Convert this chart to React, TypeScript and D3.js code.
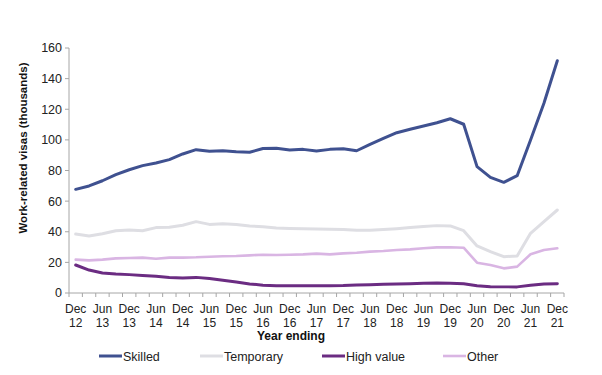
import React from "react";
import * as d3 from "d3";

const tickLabels: string[][] = [
  ["Dec", "12"], ["Jun", "13"], ["Dec", "13"], ["Jun", "14"], ["Dec", "14"], ["Jun", "15"], ["Dec", "15"],
  ["Jun", "16"], ["Dec", "16"], ["Jun", "17"], ["Dec", "17"], ["Jun", "18"], ["Dec", "18"], ["Jun", "19"],
  ["Dec", "19"], ["Jun", "20"], ["Dec", "20"], ["Jun", "21"], ["Dec", "21"],
];

const skilled = [67.7, 69.9, 73.3, 77.3, 80.5, 83.2, 84.9, 87.1, 90.8, 93.6, 92.5, 92.9, 92.3, 91.9, 94.4,
  94.5, 93.4, 93.8, 92.7, 93.8, 94.2, 92.9, 97.1, 101, 104.7, 106.9, 109.1, 111.2, 113.8, 110.2,
  82.5, 75.5, 72.3, 76.6, 99.9, 123.9, 151.7];
const temporary = [38.5, 37.2, 38.7, 40.7, 41.1, 40.7, 42.7, 42.9, 44.2, 46.6, 44.8, 45.3, 44.8, 43.8, 43.2,
  42.5, 42.2, 42, 41.8, 41.6, 41.4, 40.9, 40.9, 41.4, 42, 42.7, 43.5, 44, 43.8, 40.7,
  30.7, 27, 23.7, 24.2, 39, 46.6, 54.2];
const highValue = [18.3, 15, 13.1, 12.4, 12, 11.5, 10.9, 10.2, 9.8, 10.2, 9.4, 8.3, 7.2, 5.9, 5.1,
  4.8, 4.8, 4.8, 4.8, 4.8, 4.9, 5.2, 5.4, 5.7, 5.9, 6.1, 6.3, 6.5, 6.4, 6.1,
  4.8, 4.1, 4, 4, 5, 5.9, 6.1];
const other = [21.8, 21.3, 21.8, 22.6, 22.9, 23.1, 22.4, 23.1, 23.1, 23.3, 23.7, 24, 24.2, 24.6, 25,
  24.8, 25, 25.2, 25.7, 25.2, 25.9, 26.3, 27, 27.4, 28.1, 28.5, 29.2, 29.8, 29.9, 29.6,
  19.8, 18.3, 16.1, 17.2, 25.3, 28.1, 29.2];
const yTicks = [0, 20, 40, 60, 80, 100, 120, 140, 160];

const seriesNames = ["Skilled", "Temporary", "High value", "Other"];
const seriesData = [skilled, temporary, highValue, other];
const colors = ["#3f5190", "#dedee3", "#6b2c82", "#d9b5e3"];
const widths = [3, 3, 3, 2.6];

const FONT = "'Liberation Sans', Arial, Helvetica, sans-serif";

export default function App() {
  const W = 602, H = 375;
  const x0 = 69, x1 = 564, y0 = 293, y1 = 48;
  const n = skilled.length;
  const x = d3.scaleBand<number>().domain(d3.range(n)).range([x0, x1]);
  const cx = (i: number) => (x(i) as number) + x.bandwidth() / 2;
  const y = d3.scaleLinear().domain([0, 160]).range([y0, y1]);
  const line = d3.line<number>().x((_, i) => cx(i)).y((d) => y(d)).curve(d3.curveLinear);

  const legendX = [99, 200, 322, 443];

  return (
    <svg width={W} height={H} style={{ position: "absolute", left: 0, top: 0, background: "#fff" }} fontFamily={FONT}>
      {/* y axis */}
      <line x1={x0} x2={x0} y1={y1} y2={y0} stroke="#a6a6a6" strokeWidth={1} />
      {yTicks.map((t) => (
        <g key={t}>
          <line x1={x0 - 4} x2={x0} y1={y(t)} y2={y(t)} stroke="#a6a6a6" />
          <text x={62} y={y(t)} dy="0.35em" textAnchor="end" fontSize={12.5} fill="#222">{t}</text>
        </g>
      ))}
      <text transform={`translate(23,148) rotate(-90)`} textAnchor="middle" dy="0.35em" fontSize={11.5} fontWeight="bold" fill="#111">
        Work-related visas (thousands)
      </text>
      {/* x axis */}
      <line x1={x0} x2={x1} y1={y0} y2={y0} stroke="#a6a6a6" />
      {d3.range(n + 1).map((i) => {
        const xx = x0 + i * x.step();
        return <line key={i} x1={xx} x2={xx} y1={y0} y2={y0 + 4} stroke="#a6a6a6" />;
      })}
      {tickLabels.map((lab, k) => (
        <text key={k} x={cx(k * 2)} textAnchor="middle" fontSize={12} fill="#222">
          <tspan x={cx(k * 2)} y={308.5} dy="0.35em">{lab[0]}</tspan>
          <tspan x={cx(k * 2)} y={322.5} dy="0.35em">{lab[1]}</tspan>
        </text>
      ))}
      <text x={291} y={336} dy="0.35em" textAnchor="middle" fontSize={12} fontWeight="bold" fill="#111">Year ending</text>
      {/* lines */}
      {seriesData.map((s, k) => (
        <path key={k} d={line(s) as string} fill="none" stroke={colors[k]} strokeWidth={widths[k]} strokeLinejoin="round" strokeLinecap="round" />
      ))}
      {/* legend */}
      {seriesNames.map((name, k) => (
        <g key={name}>
          <line x1={legendX[k]} x2={legendX[k] + 23} y1={356} y2={356} stroke={colors[k]} strokeWidth={widths[k]} />
          <text x={legendX[k] + 24} y={357} dy="0.35em" fontSize={12.5} fill="#222">{name}</text>
        </g>
      ))}
    </svg>
  );
}
